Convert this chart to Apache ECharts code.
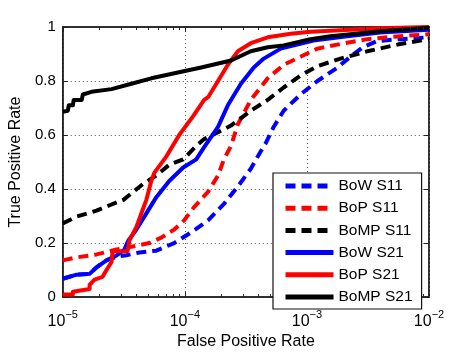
<!DOCTYPE html>
<html>
<head>
<meta charset="utf-8">
<script src="https://cdn.jsdelivr.net/npm/echarts@6/dist/echarts.min.js"></script>
<style>html,body{margin:0;padding:0;background:#fff}#c{width:474px;height:355px}</style>
</head>
<body>
<div id="c"></div>
<script>
// ---- data (False Positive Rate, True Positive Rate) ----
const seriesNames = ['BoW S11', 'BoP S11', 'BoMP S11', 'BoW S21', 'BoP S21', 'BoMP S21'];

const fprBoWS11 = [1e-5, 1.30e-5, 1.66e-5, 1.89e-5, 2.28e-5, 2.76e-5, 3.32e-5, 4.24e-5, 5.84e-5, 8.18e-5, 1.13e-4, 1.55e-4, 2.09e-4, 2.72e-4, 3.47e-4, 4.19e-4, 4.6e-4, 5.34e-4, 6.45e-4, 8.85e-4, 1.22e-3, 1.78e-3, 2.27e-3, 2.89e-3, 3.76e-3, 5.8e-3, 1e-2];
const tprBoWS11 = [0.068, 0.083, 0.086, 0.11, 0.136, 0.15, 0.155, 0.165, 0.172, 0.20, 0.24, 0.284, 0.345, 0.41, 0.475, 0.54, 0.57, 0.63, 0.69, 0.75, 0.80, 0.85, 0.89, 0.926, 0.948, 0.955, 0.962];

const fprBoPS11 = [1e-5, 1.30e-5, 1.89e-5, 2.76e-5, 4.01e-5, 5.12e-5, 6.41e-5, 8.18e-5, 9.87e-5, 1.19e-4, 1.55e-4, 1.87e-4, 2.09e-4, 2.39e-4, 2.72e-4, 3.47e-4, 4.77e-4, 6.45e-4, 8.85e-4, 1.22e-3, 1.88e-3, 3.12e-3, 5.8e-3, 1e-2];
const tprBoPS11 = [0.136, 0.147, 0.158, 0.176, 0.19, 0.20, 0.22, 0.25, 0.284, 0.333, 0.39, 0.45, 0.51, 0.56, 0.64, 0.73, 0.81, 0.86, 0.89, 0.92, 0.937, 0.955, 0.966, 0.973];

const fprBoMPS11 = [1e-5, 1.30e-5, 1.89e-5, 2.42e-5, 3.14e-5, 3.79e-5, 4.57e-5, 5.84e-5, 7.45e-5, 9.7e-5, 1.24e-4, 1.44e-4, 2.39e-4, 3.47e-4, 4.77e-4, 6.45e-4, 8.85e-4, 1.22e-3, 1.88e-3, 3.12e-3, 5.8e-3, 1e-2];
const tprBoMPS11 = [0.273, 0.298, 0.32, 0.34, 0.36, 0.39, 0.42, 0.45, 0.49, 0.51, 0.56, 0.585, 0.635, 0.69, 0.73, 0.776, 0.82, 0.855, 0.883, 0.91, 0.937, 0.955];

const fprBoWS21 = [1e-5, 1.30e-5, 1.66e-5, 1.89e-5, 2.28e-5, 2.76e-5, 3.20e-5, 3.45e-5, 4.01e-5, 4.84e-5, 5.84e-5, 7.45e-5, 9.7e-5, 1.24e-4, 1.44e-4, 1.87e-4, 2.25e-4, 2.88e-4, 3.67e-4, 4.43e-4, 6.1e-4, 1.13e-3, 2.14e-3, 3.98e-3, 1e-2];
const tprBoWS21 = [0.068, 0.083, 0.086, 0.11, 0.136, 0.154, 0.176, 0.21, 0.25, 0.31, 0.37, 0.43, 0.48, 0.51, 0.555, 0.63, 0.71, 0.79, 0.85, 0.883, 0.92, 0.95, 0.966, 0.98, 0.99];

const fprBoPS21 = [1e-5, 1.21e-5, 1.21e-5, 1.66e-5, 1.66e-5, 1.82e-5, 2.12e-5, 2.28e-5, 2.51e-5, 2.56e-5, 3.39e-5, 3.52e-5, 4.01e-5, 4.57e-5, 4.84e-5, 5.31e-5, 5.62e-5, 7.04e-5, 8.99e-5, 1.17e-4, 1.44e-4, 1.55e-4, 1.87e-4, 2.25e-4, 2.72e-4, 3.47e-4, 4.77e-4, 7.36e-4, 1.07e-3, 3.98e-3, 1e-2];
const tprBoPS21 = [0.01, 0.01, 0.02, 0.03, 0.045, 0.065, 0.075, 0.10, 0.13, 0.17, 0.17, 0.21, 0.26, 0.33, 0.36, 0.43, 0.46, 0.52, 0.60, 0.67, 0.73, 0.74, 0.80, 0.86, 0.91, 0.94, 0.962, 0.975, 0.982, 0.995, 1.0];

const fprBoMPS21 = [1e-5, 1.10e-5, 1.12e-5, 1.21e-5, 1.23e-5, 1.43e-5, 1.46e-5, 1.72e-5, 2.51e-5, 3.65e-5, 5.31e-5, 1e-4, 1.36e-4, 2.39e-4, 3.47e-4, 4.77e-4, 6.45e-4, 1.07e-3, 1.56e-3, 3.98e-3, 1e-2];
const tprBoMPS21 = [0.686, 0.69, 0.71, 0.71, 0.73, 0.73, 0.75, 0.76, 0.77, 0.79, 0.81, 0.837, 0.85, 0.876, 0.91, 0.925, 0.932, 0.955, 0.966, 0.984, 0.997];

// ---- axis ticks ----
const xMin = 1e-5, xMax = 1e-2;
const yTicks = [0, 0.2, 0.4, 0.6, 0.8, 1];
const xMajorTicks = [1e-5, 1e-4, 1e-3, 1e-2];
const xTickExponents = ['−5', '−4', '−3', '−2'];
const xMinorTicks = [2e-5, 3e-5, 4e-5, 5e-5, 6e-5, 7e-5, 8e-5, 9e-5,
                     2e-4, 3e-4, 4e-4, 5e-4, 6e-4, 7e-4, 8e-4, 9e-4,
                     2e-3, 3e-3, 4e-3, 5e-3, 6e-3, 7e-3, 8e-3, 9e-3];

const colors = ['#0000ff', '#ff0000', '#000000', '#0000ff', '#ff0000', '#000000'];
const fprs = [fprBoWS11, fprBoPS11, fprBoMPS11, fprBoWS21, fprBoPS21, fprBoMPS21];
const tprs = [tprBoWS11, tprBoPS11, tprBoMPS11, tprBoWS21, tprBoPS21, tprBoMPS21];

const FONT = 'Liberation Sans';
const gridDots = { type: [1, 3], color: '#555', width: 1 };

const chart = echarts.init(document.getElementById('c'), null, { renderer: 'canvas' });

const lineSeries = seriesNames.map((name, k) => ({
  name: name,
  type: 'line',
  data: fprs[k].map((x, i) => [x, tprs[k][i]]),
  showSymbol: false,
  symbol: 'none',
  z: 3,
  color: colors[k],
  lineStyle: { width: 4, color: colors[k], type: k < 3 ? [10, 6] : 'solid', cap: 'butt', join: 'round' },
  emphasis: { disabled: true },
  silent: true
}));

const gridSeries = {
  type: 'line',
  data: [],
  z: 1,
  silent: true,
  markLine: {
    silent: true,
    symbol: ['none', 'none'],
    animation: false,
    label: { show: false },
    lineStyle: gridDots,
    data: xMinorTicks.map(v => ({ xAxis: v }))
  }
};

const minorTickSeries = {
  type: 'line',
  data: [],
  z: 4,
  silent: true,
  markLine: {
    silent: true,
    symbol: ['none', 'none'],
    animation: false,
    label: { show: false },
    lineStyle: { type: 'solid', color: '#222', width: 1 },
    data: xMinorTicks.map(v => [{ coord: [v, 0] }, { coord: [v, 0.011] }])
      .concat(xMinorTicks.map(v => [{ coord: [v, 1] }, { coord: [v, 0.989] }]))
  }
};

chart.setOption({
  animation: false,
  backgroundColor: '#fff',
  textStyle: { fontFamily: FONT },
  grid: { left: 61, right: 45, top: 27, bottom: 49, show: true, borderColor: '#222', borderWidth: 1.5, backgroundColor: 'transparent' },
  xAxis: [{
    type: 'log', logBase: 10, min: xMin, max: xMax, splitNumber: 3,
    name: 'False Positive Rate', nameLocation: 'middle', nameGap: 31,
    nameTextStyle: { fontSize: 16, color: '#000', fontFamily: FONT },
    axisLine: { show: true, onZero: false, lineStyle: { color: '#222', width: 1.5 } },
    axisTick: { show: true, inside: true, length: 5, lineStyle: { color: '#222', width: 1 } },
    axisLabel: {
      margin: 12, color: '#000',
      formatter: function (v) {
        const i = xMajorTicks.findIndex(t => Math.abs(Math.log10(t) - Math.log10(v)) < 1e-6);
        return i >= 0 ? '{b|10}{s|' + xTickExponents[i] + '}' : '';
      },
      rich: {
        b: { fontSize: 16, fontFamily: FONT, color: '#000', lineHeight: 20, verticalAlign: 'bottom' },
        s: { fontSize: 11, fontFamily: FONT, color: '#000', lineHeight: 11, verticalAlign: 'top' }
      }
    },
    splitLine: { show: true, lineStyle: gridDots }
  }, {
    type: 'log', logBase: 10, min: xMin, max: xMax, splitNumber: 3, position: 'top',
    axisLine: { show: true, onZero: false, lineStyle: { color: '#222', width: 1.5 } },
    axisTick: { show: true, inside: true, length: 5, lineStyle: { color: '#222', width: 1 } },
    axisLabel: { show: false },
    splitLine: { show: false }
  }],
  yAxis: [{
    type: 'value', min: yTicks[0], max: yTicks[yTicks.length - 1], interval: 0.2,
    name: 'True Positive Rate', nameLocation: 'middle', nameGap: 28,
    nameTextStyle: { fontSize: 16, color: '#000', fontFamily: FONT },
    axisLine: { show: true, onZero: false, lineStyle: { color: '#222', width: 1.5 } },
    axisTick: { show: true, inside: true, length: 5, lineStyle: { color: '#222', width: 1 } },
    axisLabel: { fontSize: 15, color: '#000', margin: 7, fontFamily: FONT,
      formatter: v => String(+v.toFixed(1)) },
    splitLine: { show: true, lineStyle: gridDots }
  }, {
    type: 'value', min: yTicks[0], max: yTicks[yTicks.length - 1], interval: 0.2, position: 'right',
    axisLine: { show: true, onZero: false, lineStyle: { color: '#222', width: 1.5 } },
    axisTick: { show: true, inside: true, length: 5, lineStyle: { color: '#222', width: 1 } },
    axisLabel: { show: false },
    splitLine: { show: false }
  }],
  legend: {
    data: seriesNames,
    orient: 'vertical',
    left: 273, top: 173,
    padding: [5, 9, 4, 10],
    itemWidth: 48, itemHeight: 14, itemGap: 6.2,
    backgroundColor: '#fff',
    borderColor: '#111', borderWidth: 1.2, borderRadius: 0,
    itemStyle: { color: 'transparent', borderColor: 'transparent', borderWidth: 0, opacity: 0 },
    lineStyle: { width: 5 },
    textStyle: { fontSize: 15.5, color: '#000', fontFamily: FONT },
    selectedMode: false,
    z: 10
  },
  series: [gridSeries, minorTickSeries].concat(lineSeries)
});
</script>
</body>
</html>
